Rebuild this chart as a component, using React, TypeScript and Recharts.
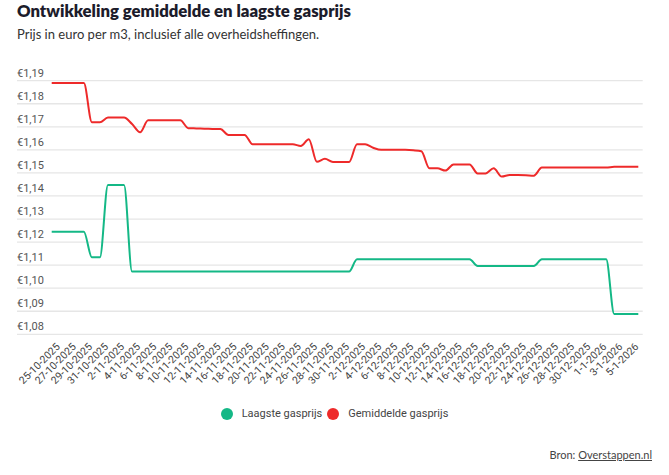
import { CartesianGrid, Legend, Line, LineChart, XAxis, YAxis } from "recharts";

// daily dates 25-10-2025 .. 6-1-2026 (labels shown every other day)
const dates: string[] = [
  "25-10-2025", "26-10-2025", "27-10-2025", "28-10-2025", "29-10-2025", "30-10-2025", "31-10-2025",
  "1-11-2025", "2-11-2025", "3-11-2025", "4-11-2025", "5-11-2025", "6-11-2025", "7-11-2025",
  "8-11-2025", "9-11-2025", "10-11-2025", "11-11-2025", "12-11-2025", "13-11-2025", "14-11-2025",
  "15-11-2025", "16-11-2025", "17-11-2025", "18-11-2025", "19-11-2025", "20-11-2025", "21-11-2025",
  "22-11-2025", "23-11-2025", "24-11-2025", "25-11-2025", "26-11-2025", "27-11-2025", "28-11-2025",
  "29-11-2025", "30-11-2025", "1-12-2025", "2-12-2025", "3-12-2025", "4-12-2025", "5-12-2025",
  "6-12-2025", "7-12-2025", "8-12-2025", "9-12-2025", "10-12-2025", "11-12-2025", "12-12-2025",
  "13-12-2025", "14-12-2025", "15-12-2025", "16-12-2025", "17-12-2025", "18-12-2025", "19-12-2025",
  "20-12-2025", "21-12-2025", "22-12-2025", "23-12-2025", "24-12-2025", "25-12-2025", "26-12-2025",
  "27-12-2025", "28-12-2025", "29-12-2025", "30-12-2025", "31-12-2025", "1-1-2026", "2-1-2026",
  "3-1-2026", "4-1-2026", "5-1-2026", "6-1-2026",
];

const gemiddelde: number[] = [
  1.189, 1.189, 1.189, 1.189, 1.189, 1.172, 1.172, 1.174, 1.174, 1.174,
  1.1712, 1.1676, 1.1728, 1.1728, 1.1728, 1.1728, 1.1728, 1.1694, 1.1693, 1.1692,
  1.1691, 1.169, 1.1665, 1.1665, 1.1665, 1.1624, 1.1624, 1.1624, 1.1624, 1.1624,
  1.1624, 1.1617, 1.1646, 1.1548, 1.1561, 1.1547, 1.1547, 1.1547, 1.1624, 1.1624,
  1.1609, 1.16, 1.16, 1.16, 1.16, 1.1598, 1.1594, 1.152, 1.152, 1.151,
  1.1537, 1.1537, 1.1537, 1.1498, 1.1498, 1.152, 1.1484, 1.1491, 1.1491, 1.149,
  1.1488, 1.1523, 1.1523, 1.1523, 1.1523, 1.1523, 1.1523, 1.1523, 1.1523, 1.1523,
  1.1527, 1.1527, 1.1527, 1.1527,
];

const laagste: number[] = [
  1.1245, 1.1245, 1.1245, 1.1245, 1.1245, 1.1134, 1.1134, 1.1448, 1.1448, 1.1448,
  1.1072, 1.1072, 1.1072, 1.1072, 1.1072, 1.1072, 1.1072, 1.1072, 1.1072, 1.1072,
  1.1072, 1.1072, 1.1072, 1.1072, 1.1072, 1.1072, 1.1072, 1.1072, 1.1072, 1.1072,
  1.1072, 1.1072, 1.1072, 1.1072, 1.1072, 1.1072, 1.1072, 1.1072, 1.1125, 1.1125,
  1.1125, 1.1125, 1.1125, 1.1125, 1.1125, 1.1125, 1.1125, 1.1125, 1.1125, 1.1125,
  1.1125, 1.1125, 1.1125, 1.1096, 1.1096, 1.1096, 1.1096, 1.1096, 1.1096, 1.1096,
  1.1096, 1.1125, 1.1125, 1.1125, 1.1125, 1.1125, 1.1125, 1.1125, 1.1125, 1.1125,
  1.0888, 1.0888, 1.0888, 1.0888,
];

const yTicks: number[] = [1.08, 1.09, 1.1, 1.11, 1.12, 1.13, 1.14, 1.15, 1.16, 1.17, 1.18, 1.19];

const GREEN = "#14b886";
const RED = "#ee2a2a";
const LABEL_FONT = "Roboto, 'Noto Sans', sans-serif";

const data = dates.map((date, i) => ({
  date,
  laagste: laagste[i],
  gemiddelde: gemiddelde[i],
}));

function formatEuro(value: number): string {
  return "€" + value.toFixed(2).replace(".", ",");
}

function YTick({ y, payload }: any) {
  return (
    <text x={17} y={y - 4} textAnchor="start" fontSize={11} fill="#555" fontFamily={LABEL_FONT}>
      {formatEuro(payload.value)}
    </text>
  );
}

function XTick({ x, y, payload }: any) {
  return (
    <g transform={`translate(${x + 9},${y + 13})`}>
      <text
        textAnchor="end"
        transform="rotate(-45)"
        fontSize={10.5}
        fill="#444"
        fontFamily={LABEL_FONT}
      >
        {payload.value}
      </text>
    </g>
  );
}

function LegendContent() {
  const items = [
    { label: "Laagste gasprijs", color: GREEN },
    { label: "Gemiddelde gasprijs", color: RED },
  ];
  return (
    <div style={{ display: "flex", justifyContent: "center", gap: 5, fontFamily: LABEL_FONT }}>
      {items.map((item) => (
        <div key={item.label} style={{ display: "flex", alignItems: "center" }}>
          <span
            style={{
              width: 12,
              height: 12,
              borderRadius: 6,
              background: item.color,
              display: "inline-block",
              marginRight: 9,
            }}
          />
          <span style={{ fontSize: 11, color: "#444" }}>{item.label}</span>
        </div>
      ))}
    </div>
  );
}

export default function App() {
  return (
    <div
      style={{
        position: "absolute",
        left: 0,
        top: 0,
        width: 669,
        height: 475,
        background: "#fff",
      }}
    >
      <div
        style={{
          position: "absolute",
          left: 17,
          top: 1,
          fontFamily: "Lato, 'Open Sans', sans-serif",
          fontWeight: 800,
          fontSize: 16.7,
          color: "#1c1c2b",
          whiteSpace: "nowrap",
        }}
      >
        Ontwikkeling gemiddelde en laagste gasprijs
      </div>
      <div
        style={{
          position: "absolute",
          left: 17,
          top: 26,
          fontFamily: "Lato, 'Open Sans', sans-serif",
          fontSize: 13,
          color: "#333",
          whiteSpace: "nowrap",
        }}
      >
        Prijs in euro per m3, inclusief alle overheidsheffingen.
      </div>

      <LineChart
        width={669}
        height={475}
        data={data}
        margin={{ top: 80.7, right: 26.3, bottom: 80.7, left: -13 }}
      >
        <CartesianGrid vertical={false} stroke="#e6e6e6" strokeWidth={1.3} />
        <XAxis
          dataKey="date"
          interval={1}
          height={60}
          padding={{ left: 34.7, right: 4.4 }}
          axisLine={false}
          tickLine={false}
          tickSize={0}
          tickMargin={0}
          tick={<XTick />}
        />
        <YAxis
          width={30}
          domain={[1.08, 1.19]}
          ticks={yTicks}
          interval={0}
          axisLine={false}
          tickLine={false}
          tick={<YTick />}
        />
        <Legend
          verticalAlign="middle"
          wrapperStyle={{ top: 407, left: 0, width: 669 }}
          content={<LegendContent />}
        />
        <Line
          type="monotone"
          dataKey="laagste"
          name="Laagste gasprijs"
          stroke={GREEN}
          strokeWidth={2}
          dot={false}
          activeDot={false}
          isAnimationActive={false}
        />
        <Line
          type="monotone"
          dataKey="gemiddelde"
          name="Gemiddelde gasprijs"
          stroke={RED}
          strokeWidth={2}
          dot={false}
          activeDot={false}
          isAnimationActive={false}
        />
      </LineChart>

      <div
        style={{
          position: "absolute",
          right: 17,
          top: 448,
          fontFamily: "Lato, 'Open Sans', sans-serif",
          fontSize: 11,
          color: "#444",
        }}
      >
        Bron: <span style={{ textDecoration: "underline" }}>Overstappen.nl</span>
      </div>
    </div>
  );
}
